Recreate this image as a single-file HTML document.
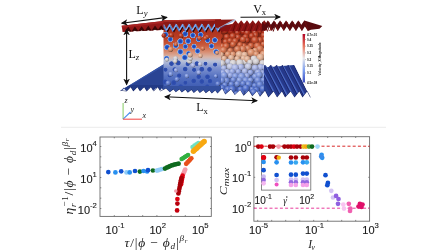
<!DOCTYPE html>
<html><head><meta charset="utf-8"><style>
html,body{margin:0;padding:0;background:#fff;width:448px;height:252px;overflow:hidden}
svg{display:block}
</style></head><body>
<svg width="448" height="252" viewBox="0 0 448 252">
<defs>
<linearGradient id="gLeft" x1="0" y1="0" x2="0" y2="1">
<stop offset="0" stop-color="#a02818"/><stop offset="0.2" stop-color="#b83c24"/>
<stop offset="0.32" stop-color="#c85a3c"/><stop offset="0.42" stop-color="#d88c70"/>
<stop offset="0.5" stop-color="#d8b4a8"/><stop offset="0.56" stop-color="#b8c0d8"/>
<stop offset="0.66" stop-color="#8094d0"/><stop offset="0.8" stop-color="#5470c0"/><stop offset="1" stop-color="#3a58b0"/></linearGradient>
<radialGradient id="bdot" cx="0.5" cy="0.5" r="0.5"><stop offset="0" stop-color="#1a44b4"/><stop offset="0.5" stop-color="#2452c4"/><stop offset="0.72" stop-color="#5a8ee0"/><stop offset="0.9" stop-color="#a8c8f0" stop-opacity="0.8"/><stop offset="1" stop-color="#a8c8f0" stop-opacity="0"/></radialGradient>
<radialGradient id="bdot2" cx="0.5" cy="0.5" r="0.5"><stop offset="0" stop-color="#2c48a8"/><stop offset="0.7" stop-color="#3050b0"/><stop offset="1" stop-color="#3050b0" stop-opacity="0"/></radialGradient>
<radialGradient id="s0" cx="0.38" cy="0.34" r="0.7"><stop offset="0" stop-color="#cb7e72"/><stop offset="0.45" stop-color="#a82814"/><stop offset="0.8" stop-color="#862010"/><stop offset="1" stop-color="#431008"/></radialGradient>
<radialGradient id="s1" cx="0.38" cy="0.34" r="0.7"><stop offset="0" stop-color="#d18476"/><stop offset="0.45" stop-color="#b2321a"/><stop offset="0.8" stop-color="#8e2815"/><stop offset="1" stop-color="#47140a"/></radialGradient>
<radialGradient id="s2" cx="0.38" cy="0.34" r="0.7"><stop offset="0" stop-color="#d78b7a"/><stop offset="0.45" stop-color="#bc3d21"/><stop offset="0.8" stop-color="#96311a"/><stop offset="1" stop-color="#4b180d"/></radialGradient>
<radialGradient id="s3" cx="0.38" cy="0.34" r="0.7"><stop offset="0" stop-color="#dc9480"/><stop offset="0.45" stop-color="#c54c2c"/><stop offset="0.8" stop-color="#9e3d23"/><stop offset="1" stop-color="#4f1e12"/></radialGradient>
<radialGradient id="s4" cx="0.38" cy="0.34" r="0.7"><stop offset="0" stop-color="#e19d88"/><stop offset="0.45" stop-color="#cd5c38"/><stop offset="0.8" stop-color="#a44a2d"/><stop offset="1" stop-color="#522516"/></radialGradient>
<radialGradient id="s5" cx="0.38" cy="0.34" r="0.7"><stop offset="0" stop-color="#e6ac96"/><stop offset="0.45" stop-color="#d57550"/><stop offset="0.8" stop-color="#aa5e40"/><stop offset="1" stop-color="#552f20"/></radialGradient>
<radialGradient id="s6" cx="0.38" cy="0.34" r="0.7"><stop offset="0" stop-color="#eabca6"/><stop offset="0.45" stop-color="#dc906b"/><stop offset="0.8" stop-color="#b07356"/><stop offset="1" stop-color="#583a2b"/></radialGradient>
<radialGradient id="s7" cx="0.38" cy="0.34" r="0.7"><stop offset="0" stop-color="#edd0bf"/><stop offset="0.45" stop-color="#e1b094"/><stop offset="0.8" stop-color="#b48d76"/><stop offset="1" stop-color="#5a463b"/></radialGradient>
<radialGradient id="s8" cx="0.38" cy="0.34" r="0.7"><stop offset="0" stop-color="#e5e3e5"/><stop offset="0.45" stop-color="#d4d0d3"/><stop offset="0.8" stop-color="#aaa6a9"/><stop offset="1" stop-color="#555354"/></radialGradient>
<radialGradient id="s9" cx="0.38" cy="0.34" r="0.7"><stop offset="0" stop-color="#d9dcec"/><stop offset="0.45" stop-color="#c0c5e0"/><stop offset="0.8" stop-color="#9a9eb3"/><stop offset="1" stop-color="#4d4f5a"/></radialGradient>
<radialGradient id="s10" cx="0.38" cy="0.34" r="0.7"><stop offset="0" stop-color="#cad1ef"/><stop offset="0.45" stop-color="#a7b3e4"/><stop offset="0.8" stop-color="#868fb6"/><stop offset="1" stop-color="#43485b"/></radialGradient>
<radialGradient id="s11" cx="0.38" cy="0.34" r="0.7"><stop offset="0" stop-color="#bec8ec"/><stop offset="0.45" stop-color="#93a4e0"/><stop offset="0.8" stop-color="#7683b3"/><stop offset="1" stop-color="#3b425a"/></radialGradient>
<radialGradient id="s12" cx="0.38" cy="0.34" r="0.7"><stop offset="0" stop-color="#b2c0ea"/><stop offset="0.45" stop-color="#7e96dc"/><stop offset="0.8" stop-color="#6578b0"/><stop offset="1" stop-color="#323c58"/></radialGradient>
<radialGradient id="s13" cx="0.38" cy="0.34" r="0.7"><stop offset="0" stop-color="#a9b8e7"/><stop offset="0.45" stop-color="#6f89d7"/><stop offset="0.8" stop-color="#596eac"/><stop offset="1" stop-color="#2c3756"/></radialGradient>
<radialGradient id="s14" cx="0.38" cy="0.34" r="0.7"><stop offset="0" stop-color="#a0b1e3"/><stop offset="0.45" stop-color="#617dd1"/><stop offset="0.8" stop-color="#4e64a7"/><stop offset="1" stop-color="#273254"/></radialGradient>
<radialGradient id="s15" cx="0.38" cy="0.34" r="0.7"><stop offset="0" stop-color="#97a9e0"/><stop offset="0.45" stop-color="#5270cc"/><stop offset="0.8" stop-color="#425aa3"/><stop offset="1" stop-color="#212d52"/></radialGradient>
<clipPath id="cR"><polygon points="221,25 264,24 264,97 221,97"/></clipPath>
<linearGradient id="gRight" x1="0" y1="0" x2="0" y2="1">
<stop offset="0" stop-color="#6a140c"/><stop offset="0.25" stop-color="#882a18"/>
<stop offset="0.45" stop-color="#9a5a48"/><stop offset="0.58" stop-color="#8a8a94"/>
<stop offset="0.72" stop-color="#5068b0"/><stop offset="1" stop-color="#2e4498"/></linearGradient>
<linearGradient id="gCb" x1="0" y1="0" x2="0" y2="1">
<stop offset="0" stop-color="#b40426"/><stop offset="0.25" stop-color="#e8765e"/>
<stop offset="0.5" stop-color="#e8e8ec"/><stop offset="0.75" stop-color="#7d9ff0"/><stop offset="1" stop-color="#3b4cc0"/></linearGradient>
<marker id="ah" markerWidth="7" markerHeight="7" refX="5.8" refY="3.3" orient="auto" markerUnits="userSpaceOnUse"><path d="M0,0 L6.8,3.3 L0,6.6 L1.8,3.3 z" fill="#111"/></marker>
<marker id="ah2" markerWidth="7" markerHeight="7" refX="5.8" refY="3.3" orient="auto-start-reverse" markerUnits="userSpaceOnUse"><path d="M0,0 L6.8,3.3 L0,6.6 L1.8,3.3 z" fill="#111"/></marker>
</defs>
<rect width="448" height="252" fill="#fff"/>
<polygon points="120.5,90.8 165,63.5 165,90" fill="#2a4494"/>
<polygon points="120.5,90.8 165,63.5 165,65.5 123,89.8" fill="#3454a8"/>
<polygon points="120.5,90.8 124.0,87.6 127.1,91.6 130.2,87.6 133.4,91.6 136.6,87.6 139.7,91.6 142.8,87.6 146.0,91.6 149.2,87.6 152.3,91.6 155.5,87.6 158.6,91.6 161.8,87.6 164.9,91.6 165.5,85 130,85" fill="#223a86"/>
<polygon points="121.2,92.2 124.0,88.2 126.7,92.2" fill="#fff"/>
<polygon points="127.5,92.2 130.2,88.2 133.0,92.2" fill="#fff"/>
<polygon points="133.8,92.2 136.6,88.2 139.3,92.2" fill="#fff"/>
<polygon points="140.1,92.2 142.8,88.2 145.6,92.2" fill="#fff"/>
<polygon points="146.4,92.2 149.2,88.2 151.9,92.2" fill="#fff"/>
<polygon points="152.7,92.2 155.5,88.2 158.2,92.2" fill="#fff"/>
<polygon points="159.0,92.2 161.8,88.2 164.5,92.2" fill="#fff"/>
<polygon points="262,67.8 293.9,65 310.2,97.4 262,97.4" fill="#2a4294"/>
<polygon points="256.2,67.8 259.1,65 275.3,97.4 272.4,97.4" fill="#26388a"/>
<polygon points="259.1,65 262.0,67.8 278.2,97.4 275.3,97.4" fill="#3a56b2"/>
<line x1="259.1" y1="65.1" x2="275.3" y2="97.4" stroke="#0e1650" stroke-width="0.7"/>
<line x1="260.0" y1="65.8" x2="276.5" y2="97.4" stroke="#6684d8" stroke-width="0.5"/>
<polygon points="262.0,67.8 264.9,65 281.1,97.4 278.2,97.4" fill="#26388a"/>
<polygon points="264.9,65 267.8,67.8 284.0,97.4 281.1,97.4" fill="#3a56b2"/>
<line x1="264.9" y1="65.1" x2="281.1" y2="97.4" stroke="#0e1650" stroke-width="0.7"/>
<line x1="265.8" y1="65.8" x2="282.3" y2="97.4" stroke="#6684d8" stroke-width="0.5"/>
<polygon points="267.8,67.8 270.7,65 286.9,97.4 284.0,97.4" fill="#26388a"/>
<polygon points="270.7,65 273.6,67.8 289.8,97.4 286.9,97.4" fill="#3a56b2"/>
<line x1="270.7" y1="65.1" x2="286.9" y2="97.4" stroke="#0e1650" stroke-width="0.7"/>
<line x1="271.6" y1="65.8" x2="288.1" y2="97.4" stroke="#6684d8" stroke-width="0.5"/>
<polygon points="273.6,67.8 276.5,65 292.7,97.4 289.8,97.4" fill="#26388a"/>
<polygon points="276.5,65 279.4,67.8 295.6,97.4 292.7,97.4" fill="#3a56b2"/>
<line x1="276.5" y1="65.1" x2="292.7" y2="97.4" stroke="#0e1650" stroke-width="0.7"/>
<line x1="277.4" y1="65.8" x2="293.9" y2="97.4" stroke="#6684d8" stroke-width="0.5"/>
<polygon points="279.4,67.8 282.3,65 298.5,97.4 295.6,97.4" fill="#26388a"/>
<polygon points="282.3,65 285.2,67.8 301.4,97.4 298.5,97.4" fill="#3a56b2"/>
<line x1="282.3" y1="65.1" x2="298.5" y2="97.4" stroke="#0e1650" stroke-width="0.7"/>
<line x1="283.2" y1="65.8" x2="299.7" y2="97.4" stroke="#6684d8" stroke-width="0.5"/>
<polygon points="285.2,67.8 288.1,65 304.3,97.4 301.4,97.4" fill="#26388a"/>
<polygon points="288.1,65 291.0,67.8 307.2,97.4 304.3,97.4" fill="#3a56b2"/>
<line x1="288.1" y1="65.1" x2="304.3" y2="97.4" stroke="#0e1650" stroke-width="0.7"/>
<line x1="289.0" y1="65.8" x2="305.5" y2="97.4" stroke="#6684d8" stroke-width="0.5"/>
<polygon points="291.0,67.8 293.9,65 310.1,97.4 307.2,97.4" fill="#26388a"/>
<line x1="293.9" y1="65.1" x2="310.1" y2="97.4" stroke="#0e1650" stroke-width="0.7"/>
<line x1="294.8" y1="65.8" x2="311.3" y2="97.4" stroke="#6684d8" stroke-width="0.5"/>
<polygon points="293.9,64 330,64 330,99 310.2,99 310.2,97.4" fill="#fff"/>
<polygon points="260,62 300,62 300,64.6 260,64.6" fill="#fff"/>
<rect x="163.5" y="24" width="57.5" height="66" fill="url(#gLeft)"/>
<circle cx="165.7" cy="34.6" r="3.1" fill="url(#bdot)"/>
<circle cx="185.2" cy="33.9" r="3.3" fill="url(#bdot)"/>
<circle cx="192.8" cy="35.3" r="3.1" fill="url(#bdot)"/>
<circle cx="200.6" cy="34.8" r="3.1" fill="url(#bdot)"/>
<circle cx="170.3" cy="39.3" r="3.0" fill="url(#bdot)"/>
<circle cx="180.4" cy="41.3" r="3.3" fill="url(#bdot)"/>
<circle cx="188.2" cy="41.1" r="3.3" fill="url(#bdot)"/>
<circle cx="198.5" cy="39.4" r="2.9" fill="url(#bdot)"/>
<circle cx="207.6" cy="40.2" r="3.0" fill="url(#bdot)"/>
<circle cx="214.9" cy="40.1" r="3.1" fill="url(#bdot)"/>
<circle cx="167.1" cy="47.3" r="3.3" fill="url(#bdot)"/>
<circle cx="175.8" cy="45.5" r="3.3" fill="url(#bdot)"/>
<circle cx="185.4" cy="46.5" r="2.9" fill="url(#bdot)"/>
<circle cx="194.0" cy="46.5" r="2.8" fill="url(#bdot)"/>
<circle cx="211.5" cy="46.1" r="2.9" fill="url(#bdot)"/>
<circle cx="180.4" cy="51.8" r="3.3" fill="url(#bdot)"/>
<circle cx="188.5" cy="53.4" r="2.8" fill="url(#bdot)"/>
<circle cx="197.6" cy="51.1" r="3.0" fill="url(#bdot)"/>
<circle cx="216.1" cy="51.8" r="3.2" fill="url(#bdot)"/>
<circle cx="166.6" cy="58.4" r="3.1" fill="url(#bdot)"/>
<circle cx="175.7" cy="59.2" r="3.0" fill="url(#bdot)"/>
<circle cx="184.8" cy="57.5" r="3.3" fill="url(#bdot)"/>
<circle cx="171.5" cy="63.6" r="2.7" fill="url(#bdot2)"/>
<circle cx="178.2" cy="62.9" r="2.9" fill="url(#bdot2)"/>
<circle cx="187.7" cy="63.9" r="2.5" fill="url(#bdot2)"/>
<circle cx="196.9" cy="63.6" r="2.7" fill="url(#bdot2)"/>
<circle cx="205.5" cy="63.7" r="2.3" fill="url(#bdot2)"/>
<circle cx="215.1" cy="64.6" r="2.4" fill="url(#bdot2)"/>
<circle cx="165.5" cy="69.7" r="2.4" fill="url(#bdot2)"/>
<circle cx="174.7" cy="69.5" r="2.6" fill="url(#bdot2)"/>
<circle cx="185.2" cy="69.1" r="2.7" fill="url(#bdot2)"/>
<circle cx="194.1" cy="69.8" r="2.4" fill="url(#bdot2)"/>
<circle cx="201.8" cy="69.2" r="2.8" fill="url(#bdot2)"/>
<circle cx="209.5" cy="69.4" r="2.7" fill="url(#bdot2)"/>
<circle cx="169.7" cy="75.3" r="2.5" fill="url(#bdot2)"/>
<circle cx="179.2" cy="75.6" r="2.5" fill="url(#bdot2)"/>
<circle cx="198.7" cy="76.7" r="2.6" fill="url(#bdot2)"/>
<circle cx="207.5" cy="76.8" r="2.7" fill="url(#bdot2)"/>
<circle cx="216.0" cy="76.2" r="2.5" fill="url(#bdot2)"/>
<circle cx="165.1" cy="81.9" r="2.8" fill="url(#bdot2)"/>
<circle cx="173.8" cy="82.7" r="2.9" fill="url(#bdot2)"/>
<circle cx="185.4" cy="82.7" r="2.3" fill="url(#bdot2)"/>
<circle cx="193.7" cy="80.9" r="2.7" fill="url(#bdot2)"/>
<circle cx="201.8" cy="81.5" r="2.7" fill="url(#bdot2)"/>
<circle cx="210.0" cy="81.1" r="2.6" fill="url(#bdot2)"/>
<circle cx="180.7" cy="86.8" r="2.9" fill="url(#bdot2)"/>
<circle cx="207.3" cy="86.5" r="2.5" fill="url(#bdot2)"/>
<circle cx="189.5" cy="61.1" r="2.6" fill="url(#s8)"/>
<circle cx="190.2" cy="58.4" r="2.4" fill="url(#s8)"/>
<circle cx="175.6" cy="58.6" r="2.4" fill="url(#s8)"/>
<circle cx="207.2" cy="36.9" r="2.2" fill="url(#s3)"/>
<circle cx="170.7" cy="74.1" r="2.4" fill="url(#s12)"/>
<circle cx="168.2" cy="83.1" r="2.6" fill="url(#s14)"/>
<circle cx="200.0" cy="64.0" r="2.1" fill="url(#s9)"/>
<circle cx="166.8" cy="59.5" r="2.0" fill="url(#s8)"/>
<circle cx="175.9" cy="44.6" r="2.0" fill="url(#s4)"/>
<circle cx="190.1" cy="54.9" r="2.5" fill="url(#s7)"/>
<circle cx="193.0" cy="65.3" r="2.3" fill="url(#s10)"/>
<circle cx="200.4" cy="55.8" r="2.2" fill="url(#s7)"/>
<circle cx="217.9" cy="83.8" r="2.5" fill="url(#s14)"/>
<circle cx="202.8" cy="48.4" r="2.1" fill="url(#s5)"/>
<circle cx="181.0" cy="35.7" r="2.5" fill="url(#s2)"/>
<circle cx="186.8" cy="76.0" r="2.2" fill="url(#s12)"/>
<circle cx="215.8" cy="76.1" r="2.0" fill="url(#s12)"/>
<circle cx="176.9" cy="79.3" r="2.3" fill="url(#s13)"/>
<circle cx="217.0" cy="52.7" r="2.0" fill="url(#s6)"/>
<circle cx="198.7" cy="72.5" r="2.2" fill="url(#s11)"/>
<circle cx="170.5" cy="49.3" r="2.6" fill="url(#s6)"/>
<circle cx="205.4" cy="38.1" r="2.1" fill="url(#s3)"/>
<circle cx="171.3" cy="35.1" r="2.5" fill="url(#s2)"/>
<circle cx="175.2" cy="61.1" r="2.3" fill="url(#s8)"/>
<circle cx="175.9" cy="70.1" r="2.1" fill="url(#s11)"/>
<circle cx="199.5" cy="38.1" r="2.3" fill="url(#s3)"/>
<circle cx="163.8" cy="35.5" r="2.3" fill="url(#s1)"/>
<polygon points="163,20.2 221,19.2 221,26.5 163,27.5" fill="#8a1814"/>
<polygon points="163,20.2 221,19.2 221,20.8 163,21.8" fill="#b03028"/>
<polyline points="163.0,24.9 166.2,30.6 169.4,24.9 172.7,30.6 175.9,24.9 179.1,30.6 182.3,24.9 185.5,30.6 188.8,24.9 192.0,30.6 195.2,24.9 198.4,30.6 201.6,24.9 204.9,30.6 208.1,24.9 211.3,30.6 214.5,24.9 217.7,30.6 221.0,24.9" fill="none" stroke="#300606" stroke-width="1.3" transform="translate(1.3,0.9)"/>
<polyline points="163.0,24.9 166.2,30.6 169.4,24.9 172.7,30.6 175.9,24.9 179.1,30.6 182.3,24.9 185.5,30.6 188.8,24.9 192.0,30.6 195.2,24.9 198.4,30.6 201.6,24.9 204.9,30.6 208.1,24.9 211.3,30.6 214.5,24.9 217.7,30.6 221.0,24.9" fill="none" stroke="#4a88e8" stroke-width="1.3"/>
<polyline points="163.0,24.9 166.2,30.6 169.4,24.9 172.7,30.6 175.9,24.9 179.1,30.6 182.3,24.9 185.5,30.6 188.8,24.9 192.0,30.6 195.2,24.9 198.4,30.6 201.6,24.9 204.9,30.6 208.1,24.9 211.3,30.6 214.5,24.9 217.7,30.6 221.0,24.9" fill="none" stroke="#d0e4ff" stroke-width="0.5" transform="translate(0.7,-0.7)"/>
<g clip-path="url(#cR)">
<rect x="221" y="20" width="44" height="78" fill="url(#gRight)"/>
<circle cx="251.2" cy="26.3" r="3.3" fill="url(#s0)"/>
<circle cx="261.9" cy="28.2" r="3.5" fill="url(#s0)"/>
<circle cx="239.6" cy="28.5" r="2.8" fill="url(#s0)"/>
<circle cx="245.0" cy="26.9" r="3.1" fill="url(#s0)"/>
<circle cx="224.8" cy="31.0" r="2.9" fill="url(#s1)"/>
<circle cx="232.1" cy="27.4" r="3.4" fill="url(#s0)"/>
<circle cx="221.8" cy="28.1" r="3.4" fill="url(#s0)"/>
<circle cx="256.3" cy="28.5" r="2.8" fill="url(#s0)"/>
<circle cx="259.5" cy="31.1" r="3.0" fill="url(#s1)"/>
<circle cx="228.6" cy="28.1" r="3.2" fill="url(#s0)"/>
<circle cx="231.3" cy="31.2" r="3.6" fill="url(#s0)"/>
<circle cx="264.6" cy="31.4" r="3.5" fill="url(#s0)"/>
<circle cx="237.5" cy="32.8" r="2.9" fill="url(#s1)"/>
<circle cx="255.2" cy="32.8" r="3.4" fill="url(#s1)"/>
<circle cx="243.3" cy="32.0" r="2.8" fill="url(#s0)"/>
<circle cx="247.3" cy="33.0" r="3.4" fill="url(#s1)"/>
<circle cx="255.6" cy="35.2" r="2.9" fill="url(#s2)"/>
<circle cx="245.7" cy="37.1" r="3.1" fill="url(#s2)"/>
<circle cx="238.0" cy="37.4" r="3.1" fill="url(#s2)"/>
<circle cx="220.2" cy="36.7" r="3.1" fill="url(#s2)"/>
<circle cx="251.7" cy="36.0" r="2.9" fill="url(#s2)"/>
<circle cx="264.0" cy="35.6" r="3.4" fill="url(#s2)"/>
<circle cx="226.9" cy="37.1" r="3.2" fill="url(#s2)"/>
<circle cx="232.8" cy="36.3" r="3.3" fill="url(#s2)"/>
<circle cx="264.9" cy="39.7" r="3.3" fill="url(#s3)"/>
<circle cx="260.0" cy="40.2" r="3.1" fill="url(#s3)"/>
<circle cx="247.0" cy="40.3" r="2.7" fill="url(#s2)"/>
<circle cx="225.6" cy="41.8" r="2.7" fill="url(#s3)"/>
<circle cx="243.1" cy="39.6" r="3.2" fill="url(#s3)"/>
<circle cx="230.0" cy="40.8" r="2.7" fill="url(#s3)"/>
<circle cx="255.0" cy="40.3" r="3.7" fill="url(#s3)"/>
<circle cx="235.2" cy="41.3" r="3.2" fill="url(#s3)"/>
<circle cx="263.5" cy="44.2" r="2.8" fill="url(#s4)"/>
<circle cx="243.9" cy="46.1" r="2.9" fill="url(#s4)"/>
<circle cx="251.0" cy="45.9" r="3.1" fill="url(#s4)"/>
<circle cx="240.0" cy="45.0" r="2.9" fill="url(#s4)"/>
<circle cx="233.1" cy="44.5" r="3.0" fill="url(#s4)"/>
<circle cx="222.0" cy="46.3" r="3.0" fill="url(#s4)"/>
<circle cx="226.2" cy="46.3" r="3.2" fill="url(#s4)"/>
<circle cx="257.5" cy="46.2" r="3.7" fill="url(#s4)"/>
<circle cx="259.8" cy="49.1" r="3.7" fill="url(#s5)"/>
<circle cx="247.8" cy="48.7" r="3.4" fill="url(#s5)"/>
<circle cx="242.7" cy="49.4" r="3.7" fill="url(#s5)"/>
<circle cx="237.5" cy="49.4" r="3.4" fill="url(#s5)"/>
<circle cx="223.5" cy="50.3" r="3.4" fill="url(#s5)"/>
<circle cx="255.2" cy="50.6" r="2.9" fill="url(#s6)"/>
<circle cx="265.2" cy="50.2" r="2.7" fill="url(#s5)"/>
<circle cx="230.2" cy="50.7" r="2.8" fill="url(#s5)"/>
<circle cx="251.2" cy="52.7" r="3.8" fill="url(#s6)"/>
<circle cx="232.9" cy="54.4" r="3.0" fill="url(#s6)"/>
<circle cx="256.3" cy="54.3" r="3.0" fill="url(#s6)"/>
<circle cx="239.2" cy="54.5" r="3.5" fill="url(#s7)"/>
<circle cx="227.9" cy="54.3" r="3.0" fill="url(#s6)"/>
<circle cx="263.6" cy="54.3" r="3.7" fill="url(#s6)"/>
<circle cx="244.6" cy="55.0" r="3.2" fill="url(#s7)"/>
<circle cx="221.1" cy="54.6" r="2.7" fill="url(#s7)"/>
<circle cx="266.0" cy="58.7" r="3.6" fill="url(#s7)"/>
<circle cx="243.3" cy="58.3" r="2.7" fill="url(#s7)"/>
<circle cx="260.4" cy="57.5" r="3.8" fill="url(#s7)"/>
<circle cx="231.2" cy="57.9" r="3.1" fill="url(#s7)"/>
<circle cx="224.1" cy="58.6" r="2.8" fill="url(#s7)"/>
<circle cx="253.9" cy="58.8" r="3.2" fill="url(#s8)"/>
<circle cx="228.0" cy="61.6" r="2.8" fill="url(#s9)"/>
<circle cx="245.0" cy="62.0" r="2.8" fill="url(#s8)"/>
<circle cx="237.2" cy="58.8" r="2.8" fill="url(#s7)"/>
<circle cx="247.2" cy="59.1" r="3.1" fill="url(#s7)"/>
<circle cx="250.0" cy="62.3" r="2.8" fill="url(#s8)"/>
<circle cx="239.7" cy="63.0" r="3.8" fill="url(#s8)"/>
<circle cx="256.1" cy="61.6" r="3.3" fill="url(#s8)"/>
<circle cx="233.1" cy="63.1" r="3.3" fill="url(#s8)"/>
<circle cx="262.5" cy="63.0" r="3.0" fill="url(#s8)"/>
<circle cx="221.8" cy="63.4" r="3.3" fill="url(#s8)"/>
<circle cx="240.9" cy="67.4" r="3.4" fill="url(#s10)"/>
<circle cx="223.8" cy="68.1" r="2.9" fill="url(#s10)"/>
<circle cx="230.1" cy="66.6" r="3.3" fill="url(#s9)"/>
<circle cx="260.7" cy="67.4" r="3.3" fill="url(#s10)"/>
<circle cx="248.2" cy="66.7" r="3.4" fill="url(#s9)"/>
<circle cx="235.2" cy="67.9" r="3.7" fill="url(#s10)"/>
<circle cx="255.1" cy="67.9" r="3.2" fill="url(#s10)"/>
<circle cx="264.8" cy="67.3" r="2.9" fill="url(#s10)"/>
<circle cx="244.8" cy="71.3" r="3.0" fill="url(#s10)"/>
<circle cx="227.0" cy="72.4" r="3.5" fill="url(#s10)"/>
<circle cx="232.3" cy="71.7" r="3.0" fill="url(#s11)"/>
<circle cx="250.5" cy="72.6" r="2.8" fill="url(#s11)"/>
<circle cx="262.2" cy="72.7" r="2.8" fill="url(#s11)"/>
<circle cx="258.1" cy="72.5" r="3.3" fill="url(#s11)"/>
<circle cx="222.7" cy="72.6" r="2.8" fill="url(#s11)"/>
<circle cx="238.3" cy="71.8" r="2.8" fill="url(#s11)"/>
<circle cx="246.8" cy="76.0" r="3.0" fill="url(#s11)"/>
<circle cx="230.3" cy="75.4" r="2.8" fill="url(#s11)"/>
<circle cx="255.1" cy="76.6" r="3.0" fill="url(#s12)"/>
<circle cx="235.3" cy="76.2" r="3.3" fill="url(#s12)"/>
<circle cx="265.2" cy="76.2" r="3.4" fill="url(#s12)"/>
<circle cx="259.2" cy="75.1" r="3.3" fill="url(#s12)"/>
<circle cx="224.2" cy="75.5" r="3.6" fill="url(#s12)"/>
<circle cx="241.6" cy="76.6" r="3.8" fill="url(#s12)"/>
<circle cx="257.9" cy="80.4" r="3.5" fill="url(#s13)"/>
<circle cx="245.7" cy="80.5" r="3.6" fill="url(#s13)"/>
<circle cx="233.4" cy="79.9" r="2.8" fill="url(#s13)"/>
<circle cx="239.3" cy="80.2" r="2.9" fill="url(#s12)"/>
<circle cx="226.4" cy="80.9" r="3.4" fill="url(#s13)"/>
<circle cx="263.5" cy="80.1" r="2.8" fill="url(#s13)"/>
<circle cx="221.9" cy="80.5" r="3.3" fill="url(#s13)"/>
<circle cx="250.4" cy="80.2" r="2.8" fill="url(#s12)"/>
<circle cx="237.2" cy="84.0" r="3.1" fill="url(#s13)"/>
<circle cx="248.6" cy="84.5" r="3.7" fill="url(#s14)"/>
<circle cx="231.4" cy="84.4" r="3.0" fill="url(#s14)"/>
<circle cx="265.3" cy="83.9" r="3.1" fill="url(#s14)"/>
<circle cx="254.7" cy="85.7" r="2.7" fill="url(#s14)"/>
<circle cx="259.8" cy="84.8" r="3.6" fill="url(#s14)"/>
<circle cx="225.0" cy="85.0" r="2.8" fill="url(#s14)"/>
<circle cx="243.0" cy="83.7" r="2.9" fill="url(#s14)"/>
<circle cx="222.3" cy="88.1" r="3.2" fill="url(#s15)"/>
<circle cx="263.1" cy="88.9" r="3.6" fill="url(#s15)"/>
<circle cx="240.5" cy="89.6" r="3.0" fill="url(#s15)"/>
<circle cx="252.2" cy="89.6" r="3.2" fill="url(#s15)"/>
<circle cx="256.4" cy="90.1" r="3.2" fill="url(#s15)"/>
<circle cx="246.0" cy="88.4" r="3.7" fill="url(#s15)"/>
<circle cx="228.2" cy="89.8" r="3.8" fill="url(#s15)"/>
<circle cx="230.0" cy="92.5" r="2.8" fill="url(#s15)"/>
<circle cx="224.8" cy="92.4" r="3.2" fill="url(#s15)"/>
<circle cx="232.1" cy="89.6" r="3.8" fill="url(#s15)"/>
<circle cx="241.2" cy="93.3" r="3.3" fill="url(#s15)"/>
<circle cx="253.6" cy="92.4" r="3.7" fill="url(#s15)"/>
<circle cx="258.9" cy="93.8" r="2.9" fill="url(#s15)"/>
<circle cx="266.8" cy="93.6" r="2.9" fill="url(#s15)"/>
<circle cx="248.3" cy="93.5" r="3.1" fill="url(#s15)"/>
<circle cx="236.4" cy="94.1" r="3.0" fill="url(#s15)"/>
</g>
<polygon points="219,26.5 232.6,24.0 235.5,20.3 238.3,24.0 241.2,20.3 244.1,24.0 247.0,20.3 249.8,24.0 252.7,20.3 255.6,24.0 258.5,20.3 261.4,24.0 264.2,20.3 267.1,24.0 270.0,20.3 267,24.0 267,30.5 221,31.5" fill="#861212"/>
<polygon points="232.3,24.0 233.6,23.2 230.0,31 228.8,31" fill="#9c1c1c"/>
<polygon points="234.8,24.5 235.6,24.5 233.4,31.5 232.4,31.5" fill="#600808"/>
<polygon points="238.0,24.0 239.3,23.2 235.8,31 234.5,31" fill="#9c1c1c"/>
<polygon points="240.5,24.5 241.3,24.5 239.2,31.5 238.2,31.5" fill="#600808"/>
<polygon points="243.8,24.0 245.1,23.2 241.5,31 240.3,31" fill="#9c1c1c"/>
<polygon points="246.3,24.5 247.1,24.5 244.9,31.5 243.9,31.5" fill="#600808"/>
<polygon points="249.5,24.0 250.8,23.2 247.2,31 246.0,31" fill="#9c1c1c"/>
<polygon points="252.0,24.5 252.8,24.5 250.7,31.5 249.7,31.5" fill="#600808"/>
<polygon points="255.3,24.0 256.6,23.2 253.0,31 251.8,31" fill="#9c1c1c"/>
<polygon points="257.8,24.5 258.6,24.5 256.4,31.5 255.4,31.5" fill="#600808"/>
<polygon points="261.1,24.0 262.4,23.2 258.8,31 257.6,31" fill="#9c1c1c"/>
<polygon points="263.6,24.5 264.4,24.5 262.2,31.5 261.2,31.5" fill="#600808"/>
<polygon points="266.8,24.0 268.1,23.2 264.5,31 263.3,31" fill="#9c1c1c"/>
<polygon points="269.3,24.5 270.1,24.5 267.9,31.5 266.9,31.5" fill="#600808"/>
<polygon points="272.6,24.0 273.9,23.2 270.2,31 269.1,31" fill="#9c1c1c"/>
<polygon points="275.1,24.5 275.9,24.5 273.7,31.5 272.7,31.5" fill="#600808"/>
<polygon points="215,19.8 234.5,19.4 219,27.8 215,27.8" fill="#8a1814"/>
<line x1="218.6" y1="28.0" x2="234.6" y2="19.5" stroke="#a8a8c0" stroke-width="0.8"/>
<line x1="219.4" y1="28.4" x2="235.2" y2="20.0" stroke="#3a70d0" stroke-width="0.5"/>
<polygon points="262,21.5 264.8,24.8 267.8,20.6 270.9,24.8 273.9,20.6 277.0,24.8 280.0,20.6 283.0,24.8 286.0,20.6 289.1,24.8 292.1,20.6 295.2,24.8 298.2,20.6 301.3,24.8 304.3,20.6 322.3,26.0 319.5,28.8 310.9,29.8 307.9,31.1 304.9,26.6 301.9,31.1 298.9,26.6 295.9,31.1 292.9,26.6 289.9,31.1 286.8,26.6 283.8,31.1 280.8,26.6 277.8,31.1 274.8,26.6 271.8,31.1 268.8,26.6 265,30.5 262,30.5" fill="#580a0e"/>
<polygon points="267.8,20.6 269.3,22.3 272.3,30.0 271.8,31.1" fill="#801414"/>
<polygon points="273.9,20.6 275.4,22.3 278.3,30.0 277.8,31.1" fill="#801414"/>
<polygon points="280.0,20.6 281.5,22.3 284.3,30.0 283.8,31.1" fill="#801414"/>
<polygon points="286.0,20.6 287.5,22.3 290.4,30.0 289.9,31.1" fill="#801414"/>
<polygon points="292.1,20.6 293.6,22.3 296.4,30.0 295.9,31.1" fill="#701012"/>
<polygon points="298.2,20.6 299.7,22.3 302.4,30.0 301.9,31.1" fill="#701012"/>
<polygon points="304.3,20.6 305.8,22.3 308.4,30.0 307.9,31.1" fill="#701012"/>
<polygon points="121.7,25.8 163.5,21.0 163.5,30.0 122.6,32.0" fill="#941818"/>
<polygon points="121.7,25.8 163.5,21.0 163.5,23.0 122.0,27.8" fill="#a82222"/>
<polygon points="124.8,31.7 128.2,26.8 131.6,31.4" fill="#3a0606"/>
<polygon points="131.5,31.4 134.9,26.5 138.3,31.1" fill="#3a0606"/>
<polygon points="138.2,31.1 141.6,26.2 145.0,30.8" fill="#3a0606"/>
<polygon points="144.9,30.7 148.3,25.8 151.7,30.4" fill="#3a0606"/>
<polygon points="151.6,30.4 155.0,25.5 158.4,30.1" fill="#3a0606"/>
<polygon points="157.8,30.1 161.2,25.2 164.6,29.8" fill="#3a0606"/>
<polygon points="126.0,32.30 128.2,31.10 130.4,32.20" fill="#fff"/>
<polygon points="132.7,31.98 134.9,30.78 137.1,31.88" fill="#fff"/>
<polygon points="139.4,31.66 141.6,30.46 143.8,31.56" fill="#fff"/>
<polygon points="146.1,31.34 148.3,30.14 150.5,31.24" fill="#fff"/>
<polygon points="152.8,31.02 155.0,29.82 157.2,30.92" fill="#fff"/>
<polygon points="159.0,30.72 161.2,29.52 163.4,30.62" fill="#fff"/>
<polygon points="163.5,86 221,86 221,98 163.5,98" fill="#34509e"/>
<polyline points="120.5,90.8 126.6,91.4 130.7,87.2 133.3,91.4 137.4,87.2 140.1,91.4 144.2,87.2 146.8,91.4 150.9,87.2 153.6,91.4 157.7,87.2 160.3,91.4 166.0,88.6 169.8,92.2 173.4,89.4 175.8,92.3 179.4,89.5 181.8,92.5 185.4,89.7 187.8,92.7 191.4,89.9 193.8,92.9 197.4,90.1 199.8,93.0 203.4,90.2 205.8,93.2 209.4,90.4 211.8,93.4 215.2,90.6 217.5,93.5 222.2,88.5 225.3,94.4 231.0,89.4 234.8,95.0 240.1,90.0 243.6,95.7 248.8,90.7 252.3,96.3 256.9,91.3 260.0,96.8 265.0,90.8 268.4,97.4 273.6,91.4 277.1,97.4 281.9,91.4 285.1,97.4 290.7,91.4 294.5,97.4 299.3,91.4 302.5,97.4 307.1,91.4 310.2,97.4" fill="none" stroke="#101c58" stroke-width="0.9"/>
<polygon points="120.5,90.8 126.6,91.4 130.7,87.2 133.3,91.4 137.4,87.2 140.1,91.4 144.2,87.2 146.8,91.4 150.9,87.2 153.6,91.4 157.7,87.2 160.3,91.4 166.0,88.6 169.8,92.2 173.4,89.4 175.8,92.3 179.4,89.5 181.8,92.5 185.4,89.7 187.8,92.7 191.4,89.9 193.8,92.9 197.4,90.1 199.8,93.0 203.4,90.2 205.8,93.2 209.4,90.4 211.8,93.4 215.2,90.6 217.5,93.5 222.2,88.5 225.3,94.4 231.0,89.4 234.8,95.0 240.1,90.0 243.6,95.7 248.8,90.7 252.3,96.3 256.9,91.3 260.0,96.8 265.0,90.8 268.4,97.4 273.6,91.4 277.1,97.4 281.9,91.4 285.1,97.4 290.7,91.4 294.5,97.4 299.3,91.4 302.5,97.4 307.1,91.4 310.2,97.4 312,99.5 118,99.5" fill="#fff"/>
<rect x="302.6" y="34" width="2.4" height="48.5" fill="url(#gCb)"/>
<line x1="305" y1="34.8" x2="305.8" y2="34.8" stroke="#444" stroke-width="0.4"/>
<text x="307" y="35.8" font-family="'Liberation Sans', Arial, sans-serif" font-size="3" font-weight="bold" fill="#222">4.7e-01</text>
<line x1="305" y1="39.5" x2="305.8" y2="39.5" stroke="#444" stroke-width="0.4"/>
<text x="307" y="40.5" font-family="'Liberation Sans', Arial, sans-serif" font-size="3" font-weight="bold" fill="#222">0.4</text>
<line x1="305" y1="46.2" x2="305.8" y2="46.2" stroke="#444" stroke-width="0.4"/>
<text x="307" y="47.2" font-family="'Liberation Sans', Arial, sans-serif" font-size="3" font-weight="bold" fill="#222">0.35</text>
<line x1="305" y1="52.9" x2="305.8" y2="52.9" stroke="#444" stroke-width="0.4"/>
<text x="307" y="53.9" font-family="'Liberation Sans', Arial, sans-serif" font-size="3" font-weight="bold" fill="#222">0.3</text>
<line x1="305" y1="59.6" x2="305.8" y2="59.6" stroke="#444" stroke-width="0.4"/>
<text x="307" y="60.6" font-family="'Liberation Sans', Arial, sans-serif" font-size="3" font-weight="bold" fill="#222">0.2</text>
<line x1="305" y1="66.3" x2="305.8" y2="66.3" stroke="#444" stroke-width="0.4"/>
<text x="307" y="67.3" font-family="'Liberation Sans', Arial, sans-serif" font-size="3" font-weight="bold" fill="#222">0.15</text>
<line x1="305" y1="73.0" x2="305.8" y2="73.0" stroke="#444" stroke-width="0.4"/>
<text x="307" y="74.0" font-family="'Liberation Sans', Arial, sans-serif" font-size="3" font-weight="bold" fill="#222">0.1</text>
<line x1="305" y1="83.0" x2="305.8" y2="83.0" stroke="#444" stroke-width="0.4"/>
<text x="307" y="84.0" font-family="'Liberation Sans', Arial, sans-serif" font-size="3" font-weight="bold" fill="#222">4.5e-08</text>
<text transform="translate(320.6,75.5) rotate(-90)" textLength="33" lengthAdjust="spacingAndGlyphs" font-family="'Liberation Sans', Arial, sans-serif" font-size="3.2" font-weight="bold" fill="#222">Velocity_X Magnitude</text>
<line x1="121.8" y1="23.2" x2="166.8" y2="17.4" stroke="#111" stroke-width="1.1" marker-end="url(#ah)" marker-start="url(#ah2)"/>
<line x1="126.6" y1="29.6" x2="126.6" y2="84.4" stroke="#111" stroke-width="1.1" marker-end="url(#ah)" marker-start="url(#ah2)"/>
<line x1="165.0" y1="96.8" x2="257.0" y2="100.8" stroke="#111" stroke-width="1.1" marker-end="url(#ah)" marker-start="url(#ah2)"/>
<line x1="240.5" y1="17.2" x2="280.0" y2="17.0" stroke="#111" stroke-width="1.1" marker-end="url(#ah)"/>
<text x="136.3" y="13.8" font-family="'Liberation Serif', 'Times New Roman', serif" font-size="12.0" fill="#111">L<tspan font-size="8.6" dy="2.2" font-style="italic">y</tspan></text>
<text x="128.4" y="58.2" font-family="'Liberation Serif', 'Times New Roman', serif" font-size="12.0" fill="#111">L<tspan font-size="8.6" dy="2.2" font-style="italic">z</tspan></text>
<text x="196.2" y="111.4" font-family="'Liberation Serif', 'Times New Roman', serif" font-size="12.0" fill="#111">L<tspan font-size="8.6" dy="2.2">x</tspan></text>
<text x="253.2" y="12.6" font-family="'Liberation Serif', 'Times New Roman', serif" font-size="12.0" fill="#111">V<tspan font-size="8.6" dy="2.2">x</tspan></text>
<line x1="123.1" y1="119.2" x2="123.1" y2="103" stroke="#90d070" stroke-width="1.1"/>
<line x1="123.1" y1="119.2" x2="130.5" y2="112" stroke="#4a90f0" stroke-width="1.1"/>
<line x1="123.1" y1="119.2" x2="142" y2="119.2" stroke="#f45050" stroke-width="1.1"/>
<text x="124.6" y="103.2" font-family="'Liberation Serif', 'Times New Roman', serif" font-size="8" font-style="italic" fill="#222">z</text>
<text x="130.6" y="112.4" font-family="'Liberation Serif', 'Times New Roman', serif" font-size="8" font-style="italic" fill="#222">y</text>
<text x="142.6" y="118.4" font-family="'Liberation Serif', 'Times New Roman', serif" font-size="8" font-style="italic" fill="#222">x</text>
<line x1="61" y1="127.3" x2="386" y2="127.3" stroke="#ececec" stroke-width="1"/>
<rect x="100.0" y="137.0" width="111.3" height="79.4" fill="none" stroke="#6a6a6a" stroke-width="0.9"/>
<line x1="114.3" y1="216.4" x2="114.3" y2="215.1" stroke="#6a6a6a" stroke-width="0.8"/>
<line x1="114.3" y1="137.0" x2="114.3" y2="138.3" stroke="#6a6a6a" stroke-width="0.8"/>
<line x1="128.5" y1="216.4" x2="128.5" y2="215.1" stroke="#6a6a6a" stroke-width="0.8"/>
<line x1="128.5" y1="137.0" x2="128.5" y2="138.3" stroke="#6a6a6a" stroke-width="0.8"/>
<line x1="142.7" y1="216.4" x2="142.7" y2="215.1" stroke="#6a6a6a" stroke-width="0.8"/>
<line x1="142.7" y1="137.0" x2="142.7" y2="138.3" stroke="#6a6a6a" stroke-width="0.8"/>
<line x1="156.9" y1="216.4" x2="156.9" y2="215.1" stroke="#6a6a6a" stroke-width="0.8"/>
<line x1="156.9" y1="137.0" x2="156.9" y2="138.3" stroke="#6a6a6a" stroke-width="0.8"/>
<line x1="171.1" y1="216.4" x2="171.1" y2="215.1" stroke="#6a6a6a" stroke-width="0.8"/>
<line x1="171.1" y1="137.0" x2="171.1" y2="138.3" stroke="#6a6a6a" stroke-width="0.8"/>
<line x1="185.3" y1="216.4" x2="185.3" y2="215.1" stroke="#6a6a6a" stroke-width="0.8"/>
<line x1="185.3" y1="137.0" x2="185.3" y2="138.3" stroke="#6a6a6a" stroke-width="0.8"/>
<line x1="199.5" y1="216.4" x2="199.5" y2="215.1" stroke="#6a6a6a" stroke-width="0.8"/>
<line x1="199.5" y1="137.0" x2="199.5" y2="138.3" stroke="#6a6a6a" stroke-width="0.8"/>
<line x1="100.0" y1="208.5" x2="101.3" y2="208.5" stroke="#6a6a6a" stroke-width="0.8"/>
<line x1="211.3" y1="208.5" x2="210.0" y2="208.5" stroke="#6a6a6a" stroke-width="0.8"/>
<line x1="100.0" y1="198.2" x2="101.3" y2="198.2" stroke="#6a6a6a" stroke-width="0.8"/>
<line x1="211.3" y1="198.2" x2="210.0" y2="198.2" stroke="#6a6a6a" stroke-width="0.8"/>
<line x1="100.0" y1="187.8" x2="101.3" y2="187.8" stroke="#6a6a6a" stroke-width="0.8"/>
<line x1="211.3" y1="187.8" x2="210.0" y2="187.8" stroke="#6a6a6a" stroke-width="0.8"/>
<line x1="100.0" y1="177.5" x2="101.3" y2="177.5" stroke="#6a6a6a" stroke-width="0.8"/>
<line x1="211.3" y1="177.5" x2="210.0" y2="177.5" stroke="#6a6a6a" stroke-width="0.8"/>
<line x1="100.0" y1="167.2" x2="101.3" y2="167.2" stroke="#6a6a6a" stroke-width="0.8"/>
<line x1="211.3" y1="167.2" x2="210.0" y2="167.2" stroke="#6a6a6a" stroke-width="0.8"/>
<line x1="100.0" y1="156.8" x2="101.3" y2="156.8" stroke="#6a6a6a" stroke-width="0.8"/>
<line x1="211.3" y1="156.8" x2="210.0" y2="156.8" stroke="#6a6a6a" stroke-width="0.8"/>
<line x1="100.0" y1="146.5" x2="101.3" y2="146.5" stroke="#6a6a6a" stroke-width="0.8"/>
<line x1="211.3" y1="146.5" x2="210.0" y2="146.5" stroke="#6a6a6a" stroke-width="0.8"/>
<text x="96.9" y="151.7" font-family="'Liberation Sans', Arial, sans-serif" font-size="11.0" fill="#1a1a1a" stroke="#1a1a1a" stroke-width="0.12" text-anchor="end">10<tspan font-size="7.7" dy="-6">4</tspan></text>
<text x="96.9" y="182.7" font-family="'Liberation Sans', Arial, sans-serif" font-size="11.0" fill="#1a1a1a" stroke="#1a1a1a" stroke-width="0.12" text-anchor="end">10<tspan font-size="7.7" dy="-6">1</tspan></text>
<text x="96.9" y="213.7" font-family="'Liberation Sans', Arial, sans-serif" font-size="11.0" fill="#1a1a1a" stroke="#1a1a1a" stroke-width="0.12" text-anchor="end">10<tspan font-size="7.7" dy="-6">-2</tspan></text>
<text x="115.1" y="233.6" font-family="'Liberation Sans', Arial, sans-serif" font-size="11.0" fill="#1a1a1a" stroke="#1a1a1a" stroke-width="0.12" text-anchor="middle">10<tspan font-size="7.7" dy="-6">-1</tspan></text>
<text x="157.7" y="233.6" font-family="'Liberation Sans', Arial, sans-serif" font-size="11.0" fill="#1a1a1a" stroke="#1a1a1a" stroke-width="0.12" text-anchor="middle">10<tspan font-size="7.7" dy="-6">2</tspan></text>
<text x="200.3" y="233.6" font-family="'Liberation Sans', Arial, sans-serif" font-size="11.0" fill="#1a1a1a" stroke="#1a1a1a" stroke-width="0.12" text-anchor="middle">10<tspan font-size="7.7" dy="-6">5</tspan></text>
<circle cx="108.3" cy="172.1" r="2.35" fill="#1050d0"/>
<circle cx="115.4" cy="172.4" r="2.35" fill="#2890f0"/>
<circle cx="121.2" cy="171.3" r="2.35" fill="#1050d0"/>
<circle cx="126.5" cy="172.4" r="2.35" fill="#90ccf8"/>
<circle cx="129.7" cy="172.4" r="2.35" fill="#2890f0"/>
<circle cx="135.0" cy="171.0" r="2.35" fill="#1050d0"/>
<circle cx="139.9" cy="171.6" r="2.35" fill="#0e6a1e"/>
<circle cx="143.5" cy="171.0" r="2.35" fill="#2890f0"/>
<circle cx="147.1" cy="171.5" r="2.35" fill="#2890f0"/>
<circle cx="148.0" cy="170.2" r="2.35" fill="#1050d0"/>
<circle cx="152.9" cy="170.5" r="2.35" fill="#0e6a1e"/>
<circle cx="156.9" cy="170.6" r="2.35" fill="#90ccf8"/>
<circle cx="158.5" cy="170.2" r="2.35" fill="#90ccf8"/>
<circle cx="160.5" cy="169.5" r="2.35" fill="#90ccf8"/>
<circle cx="162.0" cy="169.0" r="2.35" fill="#90ccf8"/>
<circle cx="165.0" cy="168.6" r="2.35" fill="#0e6a1e"/>
<circle cx="166.7" cy="167.7" r="2.35" fill="#0e6a1e"/>
<circle cx="168.4" cy="166.9" r="2.35" fill="#0e6a1e"/>
<circle cx="170.1" cy="166.1" r="2.35" fill="#0e6a1e"/>
<circle cx="171.8" cy="165.4" r="2.35" fill="#0e6a1e"/>
<circle cx="173.5" cy="164.8" r="2.35" fill="#0e6a1e"/>
<circle cx="175.2" cy="164.4" r="2.35" fill="#0e6a1e"/>
<circle cx="176.9" cy="164.0" r="2.35" fill="#0e6a1e"/>
<circle cx="178.6" cy="163.7" r="2.35" fill="#0e6a1e"/>
<circle cx="181.7" cy="159.0" r="2.35" fill="#30b040"/>
<circle cx="183.3" cy="158.0" r="2.35" fill="#30b040"/>
<circle cx="184.8" cy="157.0" r="2.35" fill="#30b040"/>
<circle cx="186.4" cy="156.0" r="2.35" fill="#30b040"/>
<circle cx="188.0" cy="155.0" r="2.35" fill="#30b040"/>
<circle cx="186.2" cy="163.8" r="2.35" fill="#e8501a"/>
<circle cx="187.5" cy="162.4" r="2.35" fill="#e8501a"/>
<circle cx="188.8" cy="161.1" r="2.35" fill="#e8501a"/>
<circle cx="190.0" cy="159.7" r="2.35" fill="#e8501a"/>
<circle cx="191.3" cy="158.3" r="2.35" fill="#e8501a"/>
<circle cx="192.6" cy="147.0" r="2.35" fill="#70e0c0"/>
<circle cx="194.5" cy="145.7" r="2.35" fill="#70e0c0"/>
<circle cx="196.5" cy="144.3" r="2.35" fill="#70e0c0"/>
<circle cx="198.4" cy="143.0" r="2.35" fill="#70e0c0"/>
<circle cx="193.4" cy="151.2" r="2.70" fill="#f8a810"/>
<circle cx="194.9" cy="149.8" r="2.70" fill="#f8a810"/>
<circle cx="196.5" cy="148.4" r="2.70" fill="#f8a810"/>
<circle cx="198.0" cy="147.0" r="2.70" fill="#f8a810"/>
<circle cx="199.6" cy="145.6" r="2.70" fill="#f8a810"/>
<circle cx="201.1" cy="144.2" r="2.70" fill="#f8a810"/>
<circle cx="202.7" cy="142.8" r="2.70" fill="#f8a810"/>
<circle cx="204.2" cy="141.4" r="2.70" fill="#f8a810"/>
<circle cx="185.2" cy="169.5" r="2.35" fill="#f49aa8"/>
<circle cx="184.5" cy="171.0" r="2.35" fill="#f49aa8"/>
<circle cx="183.9" cy="172.5" r="2.35" fill="#f49aa8"/>
<circle cx="183.2" cy="174.0" r="2.35" fill="#f49aa8"/>
<circle cx="182.6" cy="175.5" r="2.35" fill="#e00010"/>
<circle cx="182.3" cy="177.3" r="2.35" fill="#e00010"/>
<circle cx="182.0" cy="179.1" r="2.35" fill="#e00010"/>
<circle cx="181.6" cy="180.9" r="2.35" fill="#e00010"/>
<circle cx="181.3" cy="182.7" r="2.35" fill="#e00010"/>
<circle cx="181.0" cy="184.5" r="2.35" fill="#e00010"/>
<circle cx="181.4" cy="178.0" r="2.35" fill="#a80008"/>
<circle cx="181.0" cy="180.2" r="2.35" fill="#a80008"/>
<circle cx="180.5" cy="182.4" r="2.35" fill="#a80008"/>
<circle cx="180.1" cy="184.6" r="2.35" fill="#a80008"/>
<circle cx="179.7" cy="186.9" r="2.35" fill="#a80008"/>
<circle cx="179.3" cy="189.1" r="2.35" fill="#a80008"/>
<circle cx="178.8" cy="191.3" r="2.35" fill="#a80008"/>
<circle cx="178.4" cy="193.5" r="2.35" fill="#a80008"/>
<circle cx="175.8" cy="191.0" r="1.80" fill="#f49aa8"/>
<circle cx="177.4" cy="199.0" r="2.35" fill="#e00010"/>
<circle cx="177.4" cy="203.6" r="2.35" fill="#b8000e"/>
<circle cx="177.1" cy="210.4" r="2.35" fill="#c4000e"/>
<text transform="translate(73.2,176.5) rotate(-90)" text-anchor="middle" textLength="76" lengthAdjust="spacing" font-family="'Liberation Serif', 'Times New Roman', serif" font-size="13.5" font-style="italic" fill="#222">η<tspan font-size="9.2" dy="3.0">r</tspan><tspan font-size="9.2" dx="-4.0" dy="-8.4" font-style="normal">−1</tspan><tspan dy="5.4" font-style="normal">/|</tspan>ϕ<tspan font-style="normal"> − </tspan>ϕ<tspan font-size="9.2" dy="2.4">d</tspan><tspan dy="-2.4" font-style="normal">|</tspan><tspan font-size="9.2" dy="-5.4">β</tspan><tspan font-size="6.8" dy="1.6">r</tspan></text>
<text x="156" y="246.8" text-anchor="middle" textLength="63" lengthAdjust="spacing" font-family="'Liberation Serif', 'Times New Roman', serif" font-size="13.5" font-style="italic" fill="#222">τ<tspan font-style="normal">/|</tspan>ϕ<tspan font-style="normal"> − </tspan>ϕ<tspan font-size="9.2" dy="2.4">d</tspan><tspan dy="-2.4" font-style="normal">|</tspan><tspan font-size="9.2" dy="-5.4">β</tspan><tspan font-size="6.8" dy="1.6">r</tspan></text>
<rect x="253.9" y="136.7" width="115.7" height="84.5" fill="none" stroke="#6a6a6a" stroke-width="0.9"/>
<line x1="257.7" y1="221.2" x2="257.7" y2="219.9" stroke="#6a6a6a" stroke-width="0.8"/>
<line x1="257.7" y1="136.7" x2="257.7" y2="138.0" stroke="#6a6a6a" stroke-width="0.8"/>
<line x1="271.7" y1="221.2" x2="271.7" y2="219.9" stroke="#6a6a6a" stroke-width="0.8"/>
<line x1="271.7" y1="136.7" x2="271.7" y2="138.0" stroke="#6a6a6a" stroke-width="0.8"/>
<line x1="285.7" y1="221.2" x2="285.7" y2="219.9" stroke="#6a6a6a" stroke-width="0.8"/>
<line x1="285.7" y1="136.7" x2="285.7" y2="138.0" stroke="#6a6a6a" stroke-width="0.8"/>
<line x1="299.7" y1="221.2" x2="299.7" y2="219.9" stroke="#6a6a6a" stroke-width="0.8"/>
<line x1="299.7" y1="136.7" x2="299.7" y2="138.0" stroke="#6a6a6a" stroke-width="0.8"/>
<line x1="313.7" y1="221.2" x2="313.7" y2="219.9" stroke="#6a6a6a" stroke-width="0.8"/>
<line x1="313.7" y1="136.7" x2="313.7" y2="138.0" stroke="#6a6a6a" stroke-width="0.8"/>
<line x1="327.7" y1="221.2" x2="327.7" y2="219.9" stroke="#6a6a6a" stroke-width="0.8"/>
<line x1="327.7" y1="136.7" x2="327.7" y2="138.0" stroke="#6a6a6a" stroke-width="0.8"/>
<line x1="341.7" y1="221.2" x2="341.7" y2="219.9" stroke="#6a6a6a" stroke-width="0.8"/>
<line x1="341.7" y1="136.7" x2="341.7" y2="138.0" stroke="#6a6a6a" stroke-width="0.8"/>
<line x1="355.7" y1="221.2" x2="355.7" y2="219.9" stroke="#6a6a6a" stroke-width="0.8"/>
<line x1="355.7" y1="136.7" x2="355.7" y2="138.0" stroke="#6a6a6a" stroke-width="0.8"/>
<line x1="253.9" y1="146.5" x2="255.2" y2="146.5" stroke="#6a6a6a" stroke-width="0.8"/>
<line x1="369.6" y1="146.5" x2="368.3" y2="146.5" stroke="#6a6a6a" stroke-width="0.8"/>
<line x1="253.9" y1="177.3" x2="255.2" y2="177.3" stroke="#6a6a6a" stroke-width="0.8"/>
<line x1="369.6" y1="177.3" x2="368.3" y2="177.3" stroke="#6a6a6a" stroke-width="0.8"/>
<line x1="253.9" y1="208.1" x2="255.2" y2="208.1" stroke="#6a6a6a" stroke-width="0.8"/>
<line x1="369.6" y1="208.1" x2="368.3" y2="208.1" stroke="#6a6a6a" stroke-width="0.8"/>
<text x="251.2" y="151.5" font-family="'Liberation Sans', Arial, sans-serif" font-size="11.0" fill="#1a1a1a" stroke="#1a1a1a" stroke-width="0.12" text-anchor="end">10<tspan font-size="7.7" dy="-6">0</tspan></text>
<text x="251.2" y="182.3" font-family="'Liberation Sans', Arial, sans-serif" font-size="11.0" fill="#1a1a1a" stroke="#1a1a1a" stroke-width="0.12" text-anchor="end">10<tspan font-size="7.7" dy="-6">-1</tspan></text>
<text x="251.2" y="213.1" font-family="'Liberation Sans', Arial, sans-serif" font-size="11.0" fill="#1a1a1a" stroke="#1a1a1a" stroke-width="0.12" text-anchor="end">10<tspan font-size="7.7" dy="-6">-2</tspan></text>
<text x="258.6" y="234.2" font-family="'Liberation Sans', Arial, sans-serif" font-size="11.0" fill="#1a1a1a" stroke="#1a1a1a" stroke-width="0.12" text-anchor="middle">10<tspan font-size="7.7" dy="-6">-5</tspan></text>
<text x="314.6" y="234.2" font-family="'Liberation Sans', Arial, sans-serif" font-size="11.0" fill="#1a1a1a" stroke="#1a1a1a" stroke-width="0.12" text-anchor="middle">10<tspan font-size="7.7" dy="-6">-1</tspan></text>
<text x="370.6" y="234.2" font-family="'Liberation Sans', Arial, sans-serif" font-size="11.0" fill="#1a1a1a" stroke="#1a1a1a" stroke-width="0.12" text-anchor="middle">10<tspan font-size="7.7" dy="-6">3</tspan></text>
<line x1="253.9" y1="146.2" x2="369.6" y2="146.2" stroke="#d82828" stroke-width="1" stroke-dasharray="3,2.2"/>
<line x1="253.9" y1="208.2" x2="369.6" y2="208.2" stroke="#e83c9c" stroke-width="1" stroke-dasharray="3,2.2"/>
<circle cx="258.3" cy="146.6" r="2.35" fill="#a80008"/>
<circle cx="261.5" cy="146.6" r="2.35" fill="#e00010"/>
<circle cx="270.0" cy="146.6" r="2.35" fill="#a80008"/>
<circle cx="273.0" cy="146.6" r="2.35" fill="#a80008"/>
<circle cx="278.6" cy="146.6" r="2.35" fill="#f49aa8"/>
<circle cx="284.5" cy="146.6" r="2.35" fill="#a80008"/>
<circle cx="288.0" cy="146.6" r="2.35" fill="#a80008"/>
<circle cx="291.0" cy="146.6" r="2.35" fill="#a80008"/>
<circle cx="294.0" cy="146.6" r="2.35" fill="#e00010"/>
<circle cx="297.0" cy="146.6" r="2.35" fill="#a80008"/>
<circle cx="300.5" cy="146.6" r="2.35" fill="#a80008"/>
<circle cx="303.5" cy="146.6" r="2.35" fill="#e8c020"/>
<circle cx="306.0" cy="146.6" r="2.35" fill="#f8a810"/>
<circle cx="309.0" cy="146.6" r="2.35" fill="#50a030"/>
<circle cx="312.0" cy="146.6" r="2.35" fill="#0e6a1e"/>
<circle cx="317.5" cy="146.6" r="2.35" fill="#a0d8f8"/>
<rect x="261.5" y="153.3" width="49.3" height="36.8" fill="#fff" stroke="#6a6a6a" stroke-width="0.8"/>
<circle cx="263.6" cy="157.5" r="2.35" fill="#a80008"/>
<circle cx="263.6" cy="157.5" r="2.60" fill="#e00010"/>
<circle cx="263.6" cy="162.0" r="2.35" fill="#2890f0"/>
<circle cx="263.6" cy="170.2" r="2.35" fill="#1050d0"/>
<circle cx="263.6" cy="176.7" r="2.35" fill="#c8b8f0"/>
<circle cx="263.6" cy="180.0" r="2.35" fill="#9468e0"/>
<circle cx="263.6" cy="183.3" r="2.35" fill="#f4b8f0"/>
<circle cx="276.6" cy="157.3" r="2.35" fill="#a80008"/>
<circle cx="278.8" cy="157.6" r="2.20" fill="#f0b010"/>
<circle cx="276.6" cy="162.3" r="2.35" fill="#2890f0"/>
<circle cx="276.6" cy="175.0" r="2.35" fill="#1050d0"/>
<circle cx="276.6" cy="180.0" r="2.35" fill="#d0c0f4"/>
<circle cx="276.6" cy="184.5" r="2.00" fill="#f050c0"/>
<circle cx="291.0" cy="157.5" r="2.35" fill="#a80008"/>
<circle cx="291.0" cy="162.5" r="2.35" fill="#2890f0"/>
<circle cx="291.0" cy="174.7" r="2.35" fill="#1050d0"/>
<circle cx="291.0" cy="179.5" r="2.35" fill="#d0c0f4"/>
<circle cx="291.0" cy="182.3" r="2.35" fill="#9468e0"/>
<circle cx="291.0" cy="185.0" r="2.35" fill="#f4a0e8"/>
<circle cx="295.8" cy="157.5" r="2.35" fill="#a80008"/>
<circle cx="295.8" cy="162.5" r="2.35" fill="#38a8f0"/>
<circle cx="295.8" cy="174.7" r="2.35" fill="#1050d0"/>
<circle cx="295.8" cy="179.5" r="2.35" fill="#d0c0f4"/>
<circle cx="295.8" cy="182.3" r="2.35" fill="#9468e0"/>
<circle cx="295.8" cy="185.0" r="2.35" fill="#f4a0e8"/>
<circle cx="303.0" cy="157.5" r="2.35" fill="#a80008"/>
<circle cx="303.0" cy="162.3" r="2.35" fill="#2890f0"/>
<circle cx="303.0" cy="173.6" r="2.35" fill="#1050d0"/>
<circle cx="303.0" cy="179.5" r="2.35" fill="#d0c0f4"/>
<circle cx="303.0" cy="182.3" r="2.35" fill="#9468e0"/>
<circle cx="303.0" cy="185.0" r="2.35" fill="#f4a0e8"/>
<circle cx="306.8" cy="157.5" r="2.35" fill="#a80008"/>
<circle cx="306.8" cy="162.3" r="2.35" fill="#38a8f0"/>
<circle cx="306.8" cy="173.6" r="2.35" fill="#1050d0"/>
<circle cx="306.8" cy="179.5" r="2.35" fill="#d0c0f4"/>
<circle cx="306.8" cy="182.3" r="2.35" fill="#9468e0"/>
<circle cx="306.8" cy="185.0" r="2.35" fill="#f4a0e8"/>
<text x="254.6" y="203.6" font-family="'Liberation Sans', Arial, sans-serif" font-size="10" fill="#1a1a1a" stroke="#1a1a1a" stroke-width="0.12">10<tspan font-size="7" dy="-5">-1</tspan></text>
<text x="283.2" y="203.6" font-family="'Liberation Serif', 'Times New Roman', serif" font-size="9.3" font-style="italic" fill="#222">γ</text>
<circle cx="286.8" cy="196.9" r="0.75" fill="#222"/>
<text x="299.2" y="203.6" font-family="'Liberation Sans', Arial, sans-serif" font-size="10" fill="#1a1a1a" stroke="#1a1a1a" stroke-width="0.12">10<tspan font-size="7" dy="-5">2</tspan></text>
<circle cx="321.6" cy="154.8" r="2.35" fill="#2890f0"/>
<circle cx="322.2" cy="157.8" r="2.35" fill="#2890f0"/>
<circle cx="321.2" cy="156.5" r="2.35" fill="#3a8ae8"/>
<circle cx="325.5" cy="175.2" r="2.35" fill="#1050d0"/>
<circle cx="327.9" cy="182.9" r="2.35" fill="#1050d0"/>
<circle cx="327.3" cy="185.2" r="2.35" fill="#1050d0"/>
<circle cx="331.3" cy="190.8" r="2.35" fill="#d4c4f4"/>
<circle cx="333.0" cy="197.5" r="2.35" fill="#d4c4f4"/>
<circle cx="336.1" cy="195.9" r="2.35" fill="#9060e0"/>
<circle cx="338.5" cy="199.0" r="2.35" fill="#9060e0"/>
<circle cx="338.0" cy="203.8" r="2.35" fill="#9060e0"/>
<circle cx="343.3" cy="204.6" r="2.35" fill="#f8c4f0"/>
<circle cx="344.0" cy="208.6" r="2.35" fill="#f8c4f0"/>
<circle cx="348.8" cy="203.8" r="2.35" fill="#f060b0"/>
<circle cx="350.4" cy="208.6" r="2.35" fill="#f060b0"/>
<circle cx="350.0" cy="211.0" r="2.35" fill="#f060b0"/>
<circle cx="359.9" cy="203.8" r="2.35" fill="#e0106a"/>
<circle cx="361.5" cy="207.0" r="2.35" fill="#e0106a"/>
<circle cx="358.5" cy="206.5" r="2.35" fill="#e0106a"/>
<circle cx="362.5" cy="204.5" r="2.35" fill="#e0106a"/>
<text transform="translate(227,195.2) rotate(-90)" textLength="27.5" lengthAdjust="spacingAndGlyphs" font-family="'Liberation Serif', 'Times New Roman', serif" font-size="10" font-style="italic" fill="#222">C<tspan font-size="8.5" dy="2.2">max</tspan></text>
<text x="308.3" y="248.2" font-family="'Liberation Serif', 'Times New Roman', serif" font-size="11.5" font-style="italic" fill="#222">I<tspan font-size="7.5" dy="1.4" dx="-0.6">v</tspan></text>
</svg>
</body></html>
